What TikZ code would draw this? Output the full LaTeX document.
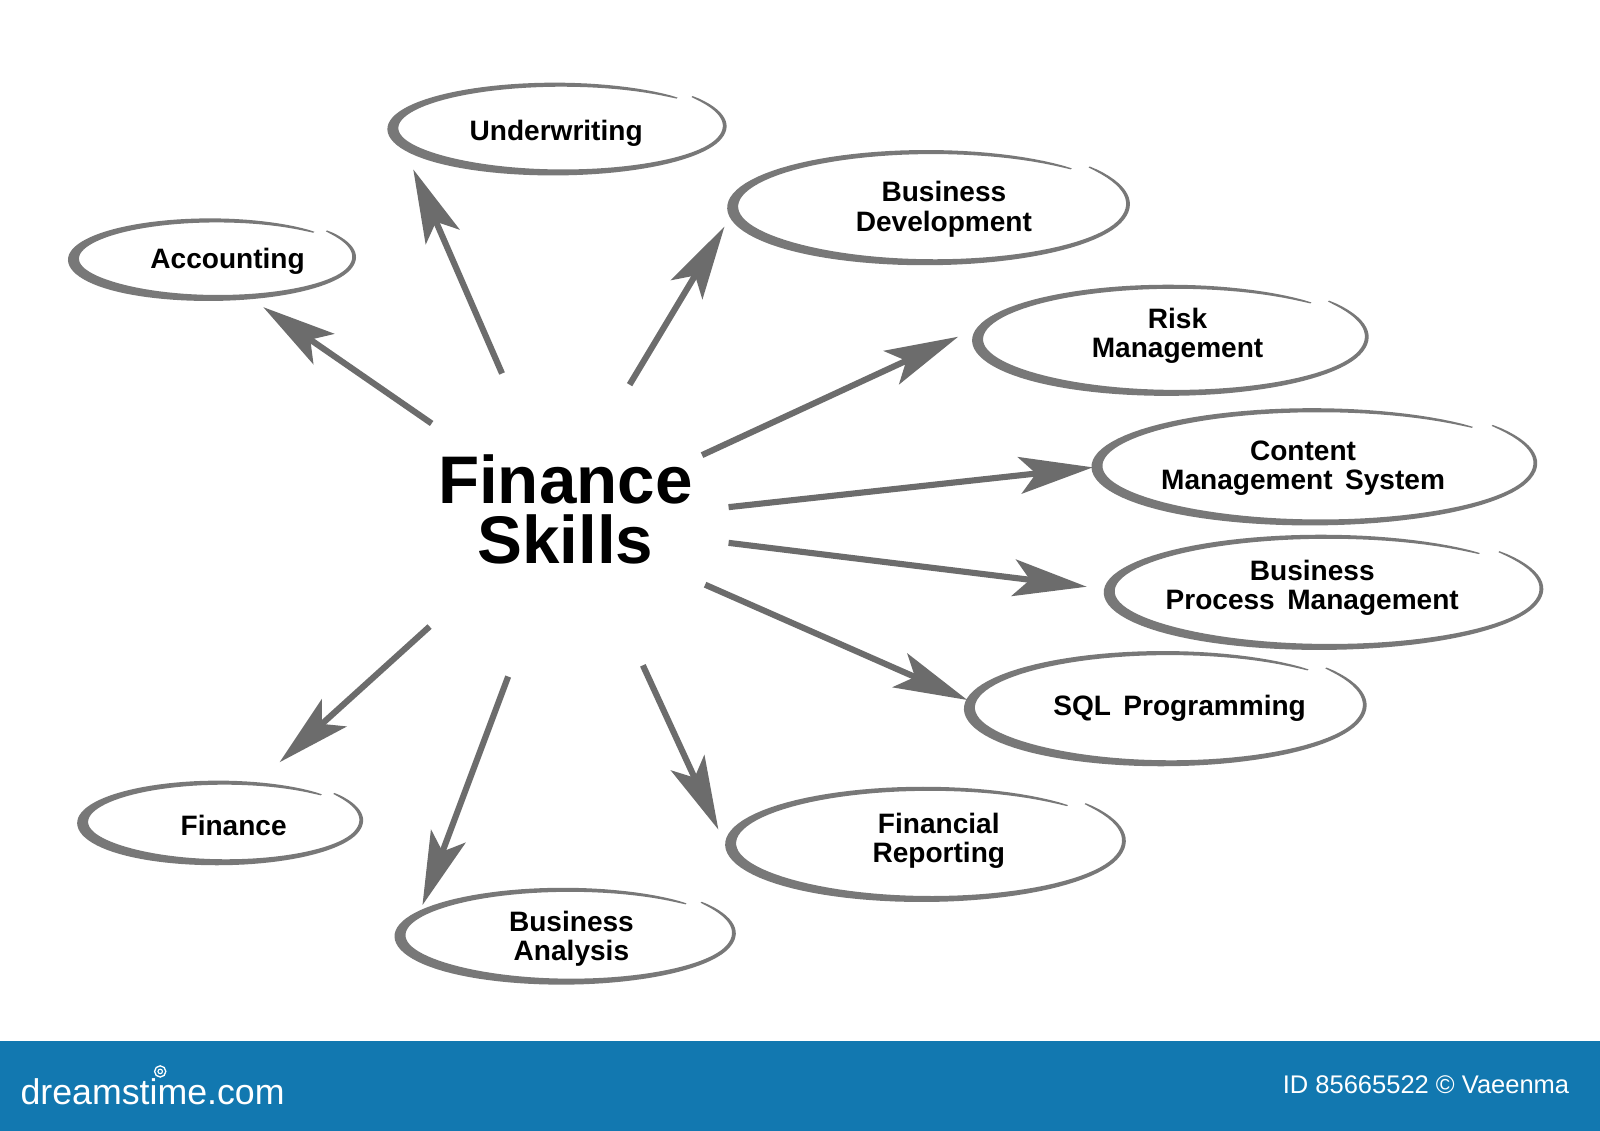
\documentclass[tikz,border=0pt]{standalone}
\usepackage{fontspec}
\setmainfont{Liberation Sans}
\newfontfamily\lblfont{Liberation Sans}[WordSpace=1.6]
\usetikzlibrary{arrows.meta}
\definecolor{arrcol}{RGB}{108,108,108}
\definecolor{ellcol}{RGB}{120,120,120}
\definecolor{barcol}{RGB}{18,120,176}
\newcommand{\ellF}[1]{(1+0.09*(max(0,(#1-345)/57))^2)}
\newcommand{\ellW}[1]{(0.7+2.0*sqrt(max(0,sin((#1-44)*0.50279)))+3*exp(-(((#1-195)/50)^2)))}
\newcommand{\brushell}[4]{%
  \fill[ellcol] plot[samples=100,domain=44:402,variable=\ang]
    ({#1+(#3*\ellF{\ang}+\ellW{\ang})*cos(\ang)},{#2-(#4*\ellF{\ang}+\ellW{\ang})*sin(\ang)})
    -- plot[samples=100,domain=402:44,variable=\ang]
    ({#1+(#3*\ellF{\ang}-\ellW{\ang})*cos(\ang)},{#2-(#4*\ellF{\ang}-\ellW{\ang})*sin(\ang)}) -- cycle;}
\tikzset{
  lbl/.style={font=\lblfont\bfseries\fontsize{27.5}{29}\selectfont, align=center, inner sep=0pt, text=black},
  hubtxt/.style={font=\bfseries\fontsize{66}{61}\selectfont, inner sep=0pt, text=black},
  arr/.style={draw=arrcol, line width=6pt, -{Stealth[length=72pt, width=36pt, inset=16pt]}},
  foot/.style={text=white, inner sep=0pt}
}
\begin{document}
\begin{tikzpicture}[x=1pt,y=-1pt]
\useasboundingbox (0,0) rectangle (1568,1108);
\fill[white] (0,0) rectangle (1568,1108);

% brush ellipses
\brushell{547}{126}{162}{43}
\brushell{209}{254}{137}{38}
\brushell{911}{203}{193}{54}
\brushell{1148}{333}{190}{52}
\brushell{1289}{457}{214}{55}
\brushell{1298}{580}{211}{54}
\brushell{1143}{694}{193}{54}
\brushell{908}{827}{192}{54}
\brushell{555}{917}{163}{45}
\brushell{217}{806}{136}{39}

% central title
\node[hubtxt, anchor=base] (hub1) at (554,493) {Finance};
\node[hubtxt, anchor=base] (hub2) at (554,552) {Skills};

% labels
\node[lbl] (uw)  at (545,131) {Underwriting};
\node[lbl] (acc) at (223,256) {Accounting};
\node[lbl] (bd)  at (925,205) {Business\\Development};
\node[lbl] (rm)  at (1154,329) {Risk\\Management};
\node[lbl] (cms) at (1277,459) {Content\\Management System};
\node[lbl] (bpm) at (1286,576) {Business\\Process Management};
\node[lbl] (sql) at (1156,694) {SQL Programming};
\node[lbl] (fr)  at (920,824) {Financial\\Reporting};
\node[lbl] (ba)  at (560,920) {Business\\Analysis};
\node[lbl] (fin) at (229,809) {Finance};

% arrow end points
\coordinate (tAcc) at (423,415); \coordinate (hAcc) at (258,301);
\coordinate (tUw)  at (492,366); \coordinate (hUw)  at (405,166);
\coordinate (tBd)  at (617,377); \coordinate (hBd)  at (710,222);
\coordinate (tRm)  at (688,446); \coordinate (hRm)  at (939,330);
\coordinate (tCms) at (714,497); \coordinate (hCms) at (1071,458);
\coordinate (tBpm) at (714,532); \coordinate (hBpm) at (1065,575);
\coordinate (tSql) at (691,573); \coordinate (hSql) at (948,686);
\coordinate (tFr)  at (630,652); \coordinate (hFr)  at (704,813);
\coordinate (tBa)  at (498,663); \coordinate (hBa)  at (414,887);
\coordinate (tFin) at (421,614); \coordinate (hFin) at (274,747);

\draw[arr] (tAcc) -- (hAcc);
\draw[arr] (tUw) -- (hUw);
\draw[arr] (tBd) -- (hBd);
\draw[arr] (tRm) -- (hRm);
\draw[arr] (tCms) -- (hCms);
\draw[arr] (tBpm) -- (hBpm);
\draw[arr] (tSql) -- (hSql);
\draw[arr] (tFr) -- (hFr);
\draw[arr] (tBa) -- (hBa);
\draw[arr] (tFin) -- (hFin);

% footer bar
\fill[barcol] (0,1020) rectangle (1568,1108);
\node[foot, anchor=base west, font=\fontsize{35}{40}\selectfont] (logo) at (20,1082) {dreamstime.com};
\draw[white, line width=1.3pt] (157,1050) circle (5.5);
\draw[white, line width=1.1pt] (157,1050) circle (2.2);
\node[foot, anchor=east, font=\fontsize{25}{30}\selectfont] (idtxt) at (1538,1063) {ID 85665522 © Vaeenma};
\end{tikzpicture}
\end{document}
